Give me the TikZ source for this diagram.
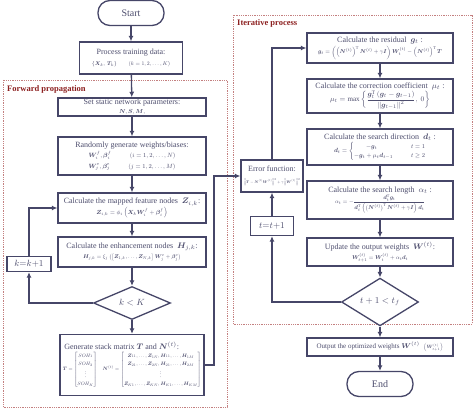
\documentclass[tikz,border=0pt]{standalone}
\usepackage{amsmath,bm}
\usepackage{fontspec}
\setmainfont{Liberation Serif}
\usetikzlibrary{shapes.geometric,arrows.meta}
\definecolor{ink}{RGB}{70,70,104}
\definecolor{txt}{RGB}{78,78,110}
\definecolor{frame}{RGB}{196,128,128}
\definecolor{headred}{RGB}{140,32,32}
\newcommand{\eqbox}[2]{\resizebox{#1}{!}{$\displaystyle #2$}}
\tikzstyle{proc} = [draw=ink, line width=1.3pt, fill=white, rectangle, inner sep=1pt, align=center, text=txt, font={\fontsize{8}{9.5}\selectfont}]
\tikzstyle{term} = [proc, rounded corners=12pt, font={\fontsize{10}{12}\selectfont}]
\tikzstyle{dec} = [proc, diamond, inner sep=0pt, font={\fontsize{9}{10}\selectfont}]
\tikzstyle{region} = [draw=frame, densely dotted, line width=0.8pt]
\tikzstyle{head} = [anchor=west, inner sep=0pt, text=headred, font={\fontsize{8.5}{10}\selectfont\bfseries}]
\tikzstyle{flow} = [draw=ink, line width=1.3pt, -{Latex[length=5.5pt,width=5pt]}]

\begin{document}
\begin{tikzpicture}[x=1pt,y=-1pt]
        \useasboundingbox (0,0) rectangle (474,414);
        % the two dotted regions
        \draw[region] (3,80) rectangle (227,407);
        \draw[region] (233,15) rectangle (472,324);
        \node[head](fphead) at (7,89){Forward propagation};
        \node[head](iphead) at (237,23){Iterative process};
        % forward propagation
        \node[term,minimum width=66pt,minimum height=25pt](start) at (131,13){Start};
        \node[proc,minimum width=103pt,minimum height=32pt](data) at (131,58){Process training data:\\[1pt]\eqbox{78pt}{\left\{\bm{X}_k,\ \bm{T}_k\right\}\qquad(k=1,2,\ldots,K)}};
        \node[proc,minimum width=148pt,minimum height=18pt](setp) at (132,107){Set static network parameters:\\\eqbox{26pt}{\bm{N},\bm{S},\bm{M},}};
        \node[proc,minimum width=148pt,minimum height=38pt](rand) at (132,156){Randomly generate weights/biases:\\[1pt]\eqbox{87pt}{\bm{W}_i^f,\bm{\beta}_i^f\qquad\quad(i=1,2,\ldots,N)}\\[1pt]\eqbox{87pt}{\bm{W}_j^e,\bm{\beta}_j^e\qquad\quad(j=1,2,\ldots,M)}};
        \node[proc,minimum width=148pt,minimum height=30pt](mapped) at (132,208){Calculate the mapped feature nodes \ $\bm{Z}_{i,k}$:\\[1pt]\eqbox{71pt}{\bm{Z}_{i,k}=\phi_i\left(\bm{X}_k\bm{W}_i^f+\bm{\beta}_i^f\right)}};
        \node[proc,minimum width=148pt,minimum height=30pt](enh) at (132,252){Calculate the enhancement nodes \ $\bm{H}_{j,k}$:\\[1pt]\eqbox{98pt}{\bm{H}_{j,k}=\xi_j\left(\left[\bm{Z}_{1,k},\ldots,\bm{Z}_{N,k}\right]\bm{W}_j^e+\bm{\beta}_j^e\right)}};
        \node[dec,minimum width=77pt,minimum height=33pt](kdia) at (132,303){$k<K$};
        \node[proc,minimum width=44pt,minimum height=15pt,font={\fontsize{9}{10}\selectfont}](kinc) at (29,264){$k{=}k{+}1$};
        \node[proc,minimum width=144pt,minimum height=61pt,align=left](stack) at (132,365){\,Generate stack matrix $\bm{T}$ and $\bm{N}^{(t)}$:\\[1pt]
          \eqbox{138pt}{\renewcommand{\arraystretch}{1.45}\bm{T}=\begin{bmatrix}SOH_1\\SOH_2\\\vdots\\SOH_K\end{bmatrix}\quad\bm{N}^{(t)}=\begin{bmatrix}\bm{Z}_{11},\ldots,\bm{Z}_{1N},\bm{H}_{11},\ldots,\bm{H}_{1M}\\\bm{Z}_{21},\ldots,\bm{Z}_{2N},\bm{H}_{21},\ldots,\bm{H}_{2M}\\\vdots\\\bm{Z}_{K1},\ldots,\bm{Z}_{KN},\bm{H}_{K1},\ldots,\bm{H}_{KM}\end{bmatrix}}};
        % iterative process
        \node[proc,minimum width=62pt,minimum height=32pt](errf) at (272,176){Error function:\\[2pt]\eqbox{56pt}{\left\|\bm{T}-\bm{N}^{(t)}\bm{W}^{(t)}\right\|^2+\gamma\left\|\bm{W}^{(t)}\right\|^2}};
        \node[proc,minimum width=43pt,minimum height=19pt,font={\fontsize{9}{10}\selectfont}](tinc) at (272,226){$t{=}t{+}1$};
        \node[proc,minimum width=146pt,minimum height=30pt](res) at (380,48){Calculate the residual \ $\bm{g}_t$ :\\[1pt]\eqbox{124pt}{\bm{g}_t=\left(\left(\bm{N}^{(t)}\right)^{\mathrm{T}}\bm{N}^{(t)}+\gamma\bm{I}\right)\bm{W}_t^{(t)}-\left(\bm{N}^{(t)}\right)^{\mathrm{T}}\bm{T}}};
        \node[proc,minimum width=146pt,minimum height=34pt](corr) at (380,96){Calculate the correction coefficient \ $\mu_t$ :\\\eqbox{100pt}{\mu_t=\max\left\{\frac{\bm{g}_t^{\mathrm{T}}\left(\bm{g}_t-\bm{g}_{t-1}\right)}{\left\|\bm{g}_{t-1}\right\|^2},\ 0\right\}}};
        \node[proc,minimum width=146pt,minimum height=36pt](dir) at (380,147){Calculate the search direction \ $\bm{d}_t$ :\\[1pt]\eqbox{92pt}{\bm{d}_t=\begin{cases}\qquad -\bm{g}_t & \qquad t=1\\-\bm{g}_t+\mu_t\bm{d}_{t-1} & \qquad t\geq 2\end{cases}}};
        \node[proc,minimum width=146pt,minimum height=38pt](len) at (380,200){Calculate the search length \ $\alpha_t$ :\\\eqbox{90pt}{\alpha_t=-\frac{\bm{d}_t^{\mathrm{T}}\bm{g}_t}{\bm{d}_t^{\mathrm{T}}\left(\left(\bm{N}^{(t)}\right)^{\mathrm{T}}\bm{N}^{(t)}+\gamma\bm{I}\right)\bm{d}_t}}};
        \node[proc,minimum width=146pt,minimum height=28pt](upd) at (380,252){Update the output weights \ $\bm{W}^{(t)}$:\\[1pt]\eqbox{56pt}{\bm{W}_{t+1}^{(t)}=\bm{W}_t^{(t)}+\alpha_t\bm{d}_t}};
        \node[dec,minimum width=77pt,minimum height=32pt](tdia) at (380,302){$t+1<t_f$};
        \node[proc,minimum width=146pt,minimum height=18pt,font={\fontsize{7}{8}\selectfont}](outw) at (380,347){Output the optimized weights $\bm{W}^{(t)}$ \ \eqbox{20pt}{\left(\bm{W}_{t+1}^{(t)}\right)}};
        \node[term,minimum width=66pt,minimum height=25pt](end) at (380,384){End};
        % connectors
        \draw[flow](start)--(data);
        \draw[flow](data)--(setp);
        \draw[flow](setp)--(rand);
        \draw[flow](rand)--(mapped);
        \draw[flow](mapped)--(enh);
        \draw[flow](enh)--(kdia);
        \draw[flow](kdia)--(stack);
        \draw[flow](kdia.west)-|(kinc.south);
        \draw[flow](kinc.north)|-(mapped.west);
        \draw[flow](stack.east)-|(214,250)|-(errf.west);
        \draw[flow](errf.north)|-(res.west);
        \draw[flow](tdia.west)-|(tinc.south);
        \draw[flow](tinc)--(errf);
        \draw[flow](res)--(corr);
        \draw[flow](corr)--(dir);
        \draw[flow](dir)--(len);
        \draw[flow](len)--(upd);
        \draw[flow](upd)--(tdia);
        \draw[flow](tdia)--(outw);
        \draw[flow](outw)--(end);
      \end{tikzpicture}
\end{document}
